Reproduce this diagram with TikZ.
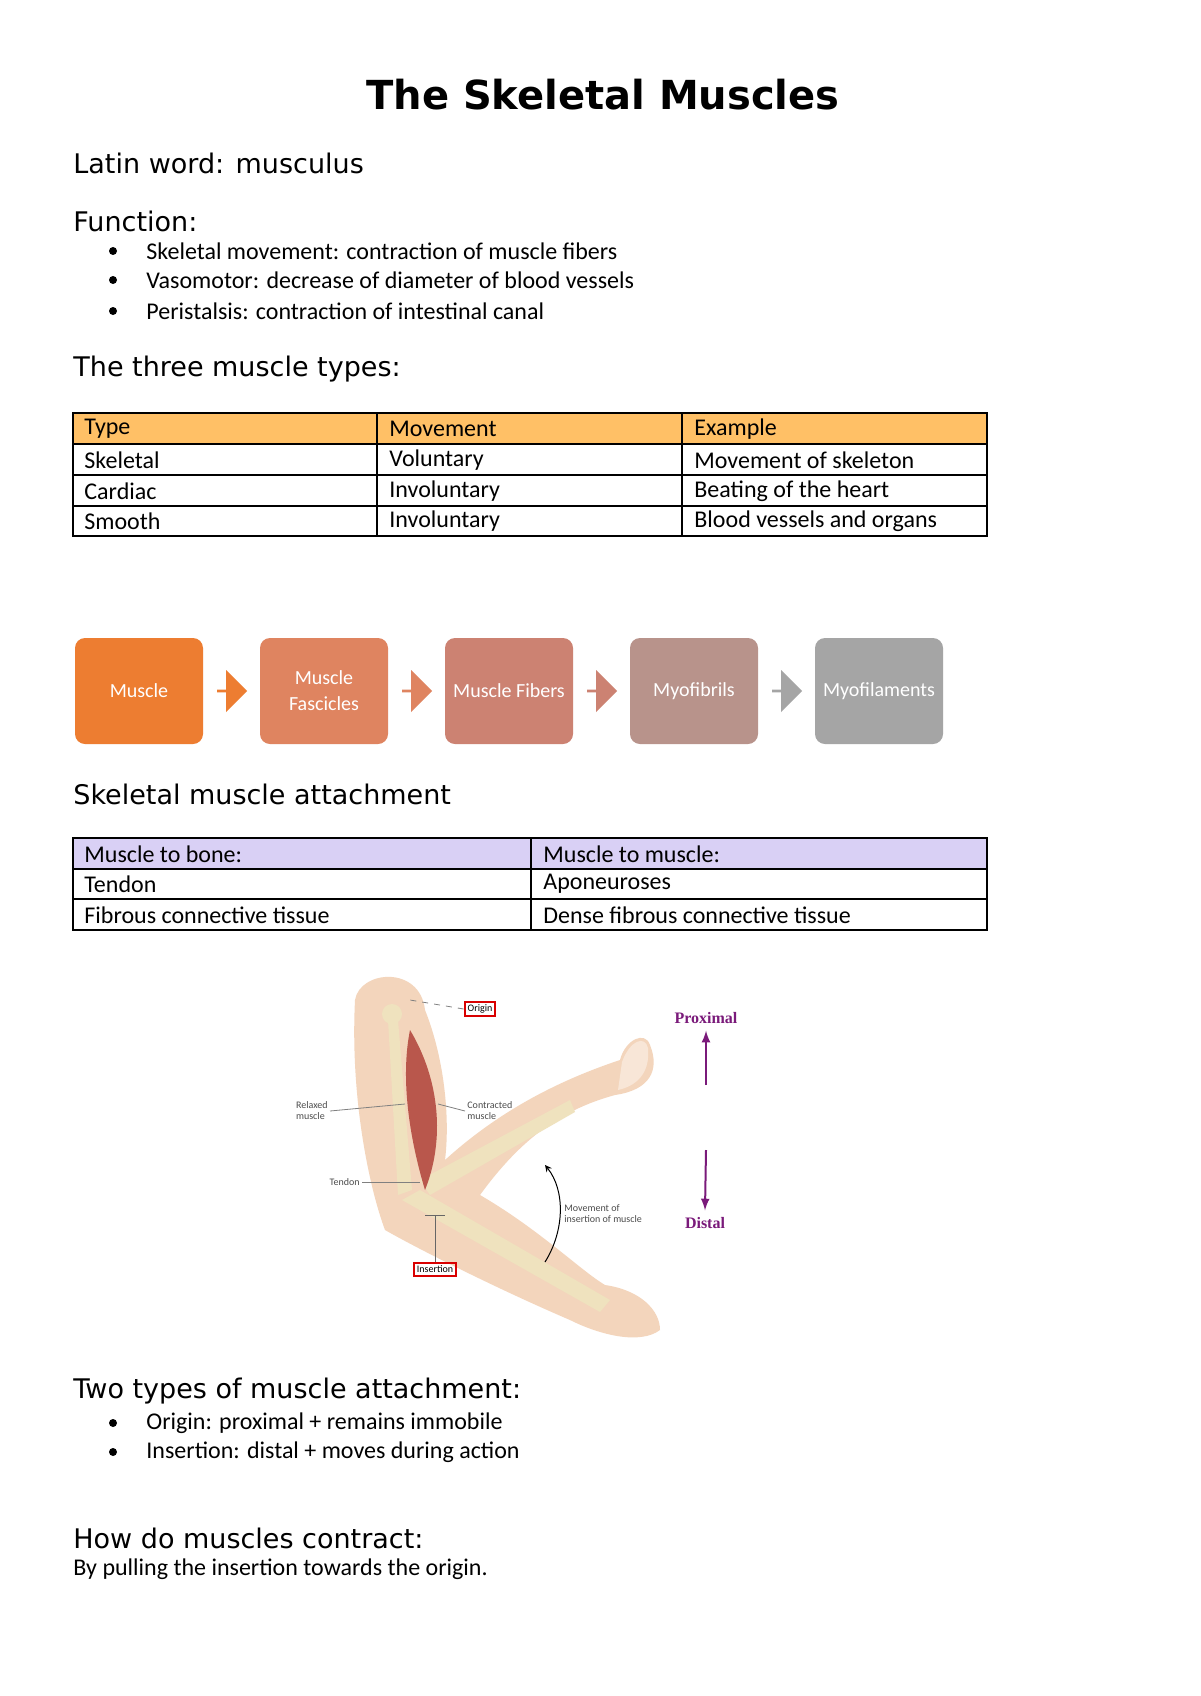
\documentclass[tikz,border=0pt]{standalone}
\usepackage{fontspec}
\setmainfont{Carlito}
\newfontfamily\djsans{DejaVu Sans}
\newfontfamily\lser{Liberation Serif}
\usetikzlibrary{shapes.arrows,calc}
\definecolor{hdrorange}{HTML}{FFC066}
\definecolor{hdrlav}{HTML}{D9D0F5}
\definecolor{fa}{HTML}{ED7D31}
\definecolor{fb}{HTML}{DF8460}
\definecolor{fc}{HTML}{CC8272}
\definecolor{fd}{HTML}{B8938B}
\definecolor{fe}{HTML}{A5A5A5}
\definecolor{skin}{HTML}{F3D5BC}
\definecolor{bone}{HTML}{EFE2BE}
\definecolor{musc}{HTML}{B9574C}
\definecolor{purp}{HTML}{7A1A7A}
\tikzset{
 head/.style={anchor=west,font=\djsans\fontsize{13.5}{16}\selectfont,inner sep=0},
 body/.style={anchor=west,font=\fontsize{12}{14}\selectfont,inner sep=0},
 cell/.style={anchor=west,font=\fontsize{12}{14}\selectfont,inner sep=0},
 flowbox/.style={rounded corners=5pt,minimum width=64pt,minimum height=53pt,text=white,align=center,font=\fontsize{10}{13}\selectfont,inner sep=1pt},
 flowarr/.style={single arrow,minimum height=15pt,minimum width=21pt,single arrow head extend=3pt,inner sep=0},
 lab/.style={font=\fontsize{5}{5.5}\selectfont,text=black!70,align=left,inner sep=1pt},
 redbox/.style={draw=red!85!black,line width=1pt,font=\fontsize{5}{6}\selectfont,inner sep=1.5pt},
 dirlab/.style={font=\lser\bfseries\fontsize{8}{9}\selectfont,text=purp},
 bul/.style={circle,fill=black,inner sep=0,minimum size=4pt}
}
\begin{document}
\begin{tikzpicture}[x=0.5pt,y=-0.5pt]
\useasboundingbox (0,0) rectangle (1200,1696);
\fill[white] (0,0) rectangle (1200,1696);
\node[font=\djsans\bfseries\fontsize{20}{24}\selectfont] (title) at (603,95) {The Skeletal Muscles};
\node[head] (latin) at (73,163) {Latin word: musculus};
\node[head] (func) at (73,221) {Function:};
\foreach \y/\t [count=\i] in {251/{Skeletal movement: contraction of muscle fibers},280/{Vasomotor: decrease of diameter of blood vessels},311/{Peristalsis: contraction of intestinal canal}}{
 \node[bul] (fb\i) at (113,\y) {};
 \node[body] (ft\i) at (146,\y) {\t};
}
\node[head] (types) at (73,369) {The three muscle types:};
% table 1
\fill[hdrorange] (73,413) rectangle (987,444);
\draw[line width=0.8pt] (73,413) rectangle (987,536);
\foreach \y in {444,475,506} \draw[line width=0.6pt] (73,\y) -- (987,\y);
\foreach \x in {377,682} \draw[line width=0.6pt] (\x,413) -- (\x,536);
\foreach \y/\a/\b/\c in {429/Type/Movement/Example,460/Skeletal/Voluntary/Movement of skeleton,491/Cardiac/Involuntary/Beating of the heart,521/Smooth/Involuntary/Blood vessels and organs}{
 \node[cell] at (84,\y) {\a};
 \node[cell] at (389,\y) {\b};
 \node[cell] at (694,\y) {\c};
}
% flow
\node[flowbox,fill=fa] (m1) at (139,691) {Muscle};
\node[flowbox,fill=fb] (m2) at (324,691) {Muscle\\Fascicles};
\node[flowbox,fill=fc] (m3) at (509,691) {Muscle Fibers};
\node[flowbox,fill=fd] (m4) at (694,691) {Myofibrils};
\node[flowbox,fill=fe] (m5) at (879,691) {Myofilaments};
\node[flowarr,fill=fa] (a1) at ($(m1.east)!0.5!(m2.west)$) {};
\node[flowarr,fill=fb] (a2) at ($(m2.east)!0.5!(m3.west)$) {};
\node[flowarr,fill=fc] (a3) at ($(m3.east)!0.5!(m4.west)$) {};
\node[flowarr,fill=fe] (a4) at ($(m4.east)!0.5!(m5.west)$) {};
\node[head] (attach) at (73,794) {Skeletal muscle attachment};
% table 2
\fill[hdrlav] (73,838) rectangle (987,869);
\draw[line width=0.8pt] (73,838) rectangle (987,930);
\foreach \y in {869,899} \draw[line width=0.6pt] (73,\y) -- (987,\y);
\draw[line width=0.6pt] (531,838) -- (531,930);
\foreach \y/\a/\b in {854/Muscle to bone:/Muscle to muscle:,884/Tendon/Aponeuroses,915/Fibrous connective tissue/Dense fibrous connective tissue}{
 \node[cell] at (84,\y) {\a};
 \node[cell] at (543,\y) {\b};
}
% arm illustration
\fill[skin] (355,1000) .. controls (360,970) and (420,965) .. (425,1010)
  .. controls (445,1060) and (450,1120) .. (445,1160)
  .. controls (500,1110) and (560,1080) .. (620,1060)
  .. controls (625,1040) and (645,1030) .. (650,1045)
  .. controls (660,1070) and (650,1090) .. (615,1095)
  .. controls (560,1110) and (520,1140) .. (480,1195)
  .. controls (540,1230) and (580,1270) .. (605,1285)
  .. controls (640,1290) and (660,1310) .. (660,1330)
  .. controls (640,1345) and (600,1335) .. (570,1320)
  .. controls (500,1290) and (420,1250) .. (385,1230)
  .. controls (370,1190) and (350,1100) .. (355,1000) -- cycle;
\fill[bone] (392,1014) circle (10);
\fill[bone] (388,1020) -- (398,1020) -- (412,1190) -- (398,1195) -- cycle;
\fill[bone] (402,1200) -- (420,1190) -- (610,1300) -- (600,1312) -- cycle;
\fill[bone] (430,1195) -- (420,1180) -- (570,1100) -- (575,1112) -- cycle;
\fill[musc] (410,1030) .. controls (440,1080) and (445,1140) .. (425,1190)
  .. controls (410,1140) and (400,1080) .. (410,1030) -- cycle;
\fill[skin!60!white] (622,1062) .. controls (630,1040) and (645,1035) .. (648,1048) .. controls (650,1070) and (640,1085) .. (618,1090) -- cycle;
\node[redbox] (origin) at (480,1009) {Origin};
\node[redbox] (insert) at (435,1269) {Insertion};
\node[lab,anchor=east] (relax) at (330,1111) {Relaxed\\muscle};
\node[lab,anchor=west] (contr) at (465,1111) {Contracted\\muscle};
\node[lab,anchor=east] (tendon) at (362,1182) {Tendon};
\node[lab,anchor=west] (move) at (562,1214) {Movement of\\insertion of muscle};
\coordinate (oend) at (410,1000);
\coordinate (rend) at (405,1104);
\coordinate (cend) at (438,1104);
\coordinate (tend) at (420,1182);
\coordinate (iend) at (435,1215);
\draw[black!50,dashed,line width=0.4pt] (origin.west) -- (oend);
\draw[black!50,line width=0.4pt] (relax.east) -- (rend);
\draw[black!50,line width=0.4pt] (contr.west) -- (cend);
\draw[black!50,line width=0.4pt] (tendon.east) -- (tend);
\draw[black!60,line width=0.4pt] (insert.north) -- (iend);
\draw[black!60,line width=0.4pt] (425,1215) -- (445,1215);
\draw[-stealth,line width=0.5pt] (545,1262) .. controls (565,1230) and (565,1190) .. (545,1165);
\node[dirlab] (prox) at (706,1018) {Proximal};
\node[dirlab] (dist) at (705,1223) {Distal};
\coordinate (pa) at (706,1085);
\coordinate (da) at (706,1150);
\draw[purp,line width=1pt,-latex] (pa) -- (prox.south);
\draw[purp,line width=1pt,-latex] (da) -- (dist.north);
\node[head] (two) at (73,1391) {Two types of muscle attachment:};
\node[bul] (tb1) at (113,1423) {};
\node[body] (tt1) at (146,1423) {Origin: proximal + remains immobile};
\node[bul] (tb2) at (113,1452) {};
\node[body] (tt2) at (146,1452) {Insertion: distal + moves during action};
\node[head] (how) at (73,1538) {How do muscles contract:};
\node[body] (pull) at (73,1569) {By pulling the insertion towards the origin.};
\end{tikzpicture}
\end{document}
